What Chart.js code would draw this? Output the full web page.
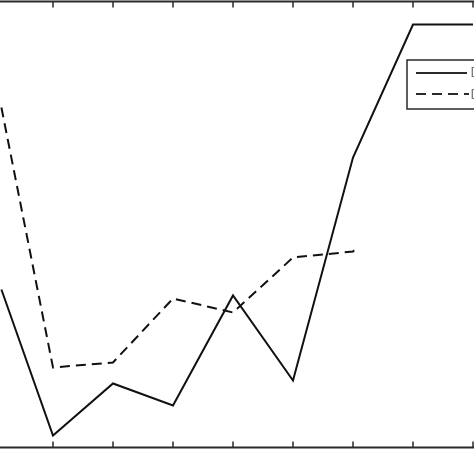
<!DOCTYPE html>
<html>
<head>
<meta charset="utf-8">
<script src="https://cdn.jsdelivr.net/npm/chart.js@4"></script>
<style>
  html, body { margin: 0; padding: 0; background: #fff; }
  #wrap { width: 474px; height: 474px; }
</style>
</head>
<body>
<div id="wrap"><canvas id="c" width="474" height="474"></canvas></div>
<script>
// Data (x in tick units, y in arbitrary units; bottom axis = 0)
const solidX = [0.14, 1, 2, 3, 4, 5, 6, 7, 8];
const solidY = [158, 12, 64, 42, 152, 67, 290, 423, 423];
const dashedX = [0.14, 1, 2, 3, 4, 5, 6, 6.08];
const dashedY = [340, 80, 85, 149, 135, 190, 196, 201];
const tickValues = [1, 2, 3, 4, 5, 6, 7, 8];
const seriesLabels = ['Data 1', 'Data 2'];

const toPts = (xs, ys) => xs.map((x, i) => ({ x: x, y: ys[i] }));

const axisPlugin = {
  id: 'matlabAxes',
  afterDatasetsDraw(chart) {
    const { ctx, scales } = chart;
    const xs = scales.x, ys = scales.y;
    const yBottom = ys.getPixelForValue(0);
    const yTop = ys.getPixelForValue(446);
    ctx.save();
    ctx.strokeStyle = '#2a2a2a';
    ctx.lineWidth = 2;
    ctx.beginPath();
    ctx.moveTo(0, yBottom); ctx.lineTo(474, yBottom);
    ctx.moveTo(0, yTop); ctx.lineTo(474, yTop);
    ctx.stroke();
    ctx.lineWidth = 1.5;
    ctx.beginPath();
    tickValues.forEach(v => {
      const px = xs.getPixelForValue(v);
      ctx.moveTo(px, yBottom); ctx.lineTo(px, yBottom - 6);
      ctx.moveTo(px, yTop); ctx.lineTo(px, yTop + 6);
    });
    ctx.stroke();

    // Legend box (top right, partly outside the picture)
    const area = chart.chartArea;
    const bx = area.right - 67, by = area.top + 60;
    ctx.fillStyle = '#fff';
    ctx.fillRect(bx, by, 120, 49);
    ctx.strokeStyle = '#2a2a2a';
    ctx.lineWidth = 1.5;
    ctx.strokeRect(bx, by, 120, 49);
    ctx.lineWidth = 2;
    ctx.beginPath();
    ctx.moveTo(bx + 9, by + 13); ctx.lineTo(bx + 60, by + 13);
    ctx.stroke();
    ctx.setLineDash([10, 6]);
    ctx.beginPath();
    ctx.moveTo(bx + 9, by + 34); ctx.lineTo(bx + 62, by + 34);
    ctx.stroke();
    ctx.setLineDash([]);
    ctx.fillStyle = '#777';
    ctx.font = '14px "Liberation Sans", Arial, sans-serif';
    ctx.textBaseline = 'middle';
    ctx.fillText(seriesLabels[0], bx + 63.5, by + 13.5);
    ctx.fillText(seriesLabels[1], bx + 63.5, by + 35);
    ctx.restore();
  }
};

new Chart(document.getElementById('c'), {
  type: 'line',
  data: {
    datasets: [
      {
        label: seriesLabels[0],
        data: toPts(solidX, solidY),
        borderColor: '#111',
        borderWidth: 2,
        pointRadius: 0,
        tension: 0,
        fill: false
      },
      {
        label: seriesLabels[1],
        data: toPts(dashedX, dashedY),
        borderColor: '#111',
        borderWidth: 2,
        borderDash: [10, 6],
        pointRadius: 0,
        tension: 0,
        fill: false
      }
    ]
  },
  options: {
    responsive: false,
    animation: false,
    devicePixelRatio: 1,
    layout: { padding: 0 },
    plugins: { legend: { display: false }, tooltip: { enabled: false } },
    scales: {
      x: { type: 'linear', display: false, min: 1 - 53 / 60, max: 1 - 53 / 60 + 474 / 60 },
      y: { type: 'linear', display: false, min: 447.5 - 474, max: 447.5 }
    }
  },
  plugins: [axisPlugin]
});
</script>
</body>
</html>
